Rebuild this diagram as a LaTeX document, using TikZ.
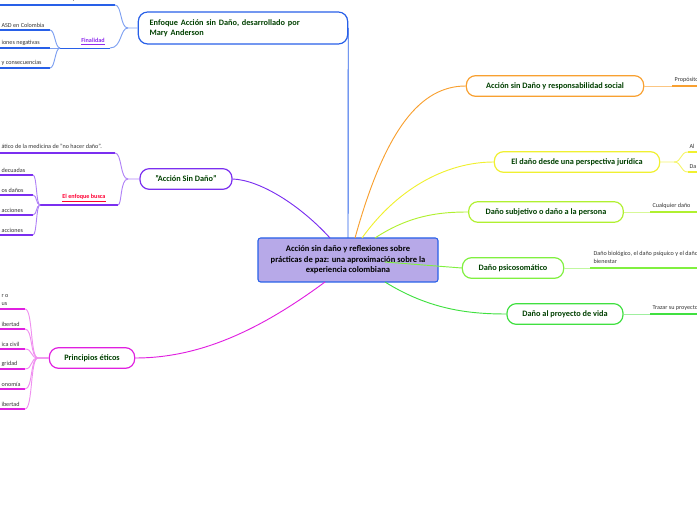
\documentclass[tikz,border=0pt]{standalone}
\usepackage{fontspec}
\setmainfont{Carlito}
\begin{document}
\begin{tikzpicture}[x=0.75pt,y=-0.75pt,
  mn/.style={draw,line width=0.9pt,rounded corners=7pt,minimum height=15.5pt,font=\bfseries\fontsize{6.2}{7.5}\selectfont,text=green!25!black,fill=white,inner xsep=6pt},
  st/.style={font=\fontsize{4.6}{5.6}\selectfont,text=black!80,inner sep=1pt},
  br/.style={line width=0.7pt},
  ul/.style={line width=1.3pt}]
\useasboundingbox (0,0) rectangle (697,520);
\definecolor{kb}{HTML}{2860E8}\definecolor{kp}{HTML}{7B2FF0}\definecolor{km}{HTML}{E020E0}
\definecolor{ko}{HTML}{F8A030}\definecolor{ky}{HTML}{F0F030}\definecolor{kl}{HTML}{B0F030}
\definecolor{kg}{HTML}{80F040}\definecolor{kv}{HTML}{40E040}\definecolor{klav}{HTML}{B7A9E8}
% central
\node[draw=kb,fill=klav,line width=0.8pt,rounded corners=2pt,minimum width=135pt,minimum height=33pt,align=center,font=\bfseries\fontsize{6.4}{8}\selectfont] (c) at (348,260) {Acción sin daño y reflexiones sobre\\prácticas de paz: una aproximación sobre la\\experiencia colombiana};
% main nodes
\node[mn,draw=kb,minimum width=157pt,minimum height=24pt,align=left,text width=140pt] (e) at (243,28) {Enfoque Acción sin Daño, desarrollado por\\Mary Anderson};
\node[mn,draw=kp,minimum width=69pt] (a) at (186,179) {"Acción Sin Daño"};
\node[mn,draw=km,minimum width=64pt] (p) at (92,358) {Principios éticos};
\node[mn,draw=ko,minimum width=133pt] (r) at (555,86) {Acción sin Daño y responsabilidad social};
\node[mn,draw=ky,minimum width=124pt] (j) at (577,162) {El daño desde una perspectiva jurídica};
\node[mn,draw=kl,minimum width=116pt] (s) at (546,212) {Daño subjetivo o daño a la persona};
\node[mn,draw=kg,minimum width=76pt] (ps) at (513,268) {Daño psicosomático};
\node[mn,draw=kv,minimum width=87pt] (v) at (565,314) {Daño al proyecto de vida};
% central connectors
\coordinate (c1) at (348,238);
\draw[br,kb] (c1) -- (e.east);
\draw[br,kp] (330,238) .. controls (300,205) and (260,180) .. (a.east);
\draw[br,km] (325,282) .. controls (260,330) and (200,358) .. (p.east);
\draw[br,ko] (355,238) .. controls (385,130) and (420,86) .. (r.west);
\draw[br,ky] (362,238) .. controls (400,185) and (450,162) .. (j.west);
\draw[br,kl] (375,238) .. controls (410,215) and (440,212) .. (s.west);
\draw[br,kg] (385,262) -- (ps.west);
\draw[br,kv] (385,282) .. controls (430,310) and (470,314) .. (v.west);
% Enfoque subitems
\node[st,anchor=south east] (e0) at (110,3) {y lo sustentan.};
\draw[ul,kb] (0,5) -- (115,5);
\draw[br,kb!60] (e.west) -- (128,28) .. controls (120,28) and (122,5) .. (115,5);
\node[font=\bfseries\fontsize{4.6}{5.6}\selectfont,text=kp!80!km] (fi) at (93,42) {\underline{Finalidad}};
\draw[br,kb] (60,48) -- (110,48);
\draw[br,kb!60] (128,28) .. controls (120,28) and (122,48) .. (110,48);
\foreach \y/\t in {30/ASD en Colombia,48/iones negativas,68/y consecuencias}{
  \node[st,anchor=south west] at (0,\y-1) {\t};
  \draw[ul,kb] (0,\y) -- (50,\y);
  \draw[br,kb!60] (60,48) .. controls (55,48) and (55,\y) .. (50,\y);}
% Accion Sin Dano subitems
\node[st,anchor=south west] at (0,150) {ático de la medicina de "no hacer daño".};
\draw[ul,kp] (0,153) -- (115,153);
\draw[br,kp!60] (a.west) -- (128,179) .. controls (120,179) and (122,153) .. (115,153);
\node[font=\bfseries\fontsize{4.6}{5.6}\selectfont,text=red!80!magenta] (eb) at (84,198) {\underline{El enfoque busca}};
\draw[ul,kp] (40,205) -- (118,205);
\draw[br,kp!60] (128,179) .. controls (120,179) and (122,205) .. (118,205);
\foreach \y/\t in {175/decuadas,195/os daños,215/acciones,235/acciones}{
  \node[st,anchor=south west] at (0,\y-1) {\t};
  \draw[ul,kp] (0,\y) -- (33,\y);
  \draw[br,kp!60] (40,205) .. controls (36,205) and (37,\y) .. (33,\y);}
% Principios subitems
\node[st,anchor=south west,align=left] at (0,307) {r o\\us};
\foreach \y/\t in {309/,329/ibertad,349/ica civil,369/gridad,389/onomía,409/ibertad}{
  \node[st,anchor=south west] at (0,\y-1) {\t};
  \draw[ul,km] (0,\y) -- (25,\y);
  \draw[br,km!50] (p.west) -- (38,358) .. controls (30,358) and (33,\y) .. (25,\y);}
% right subitems
\node[st,anchor=south west] at (673,84) {Propósito};
\draw[br,ko!60] (r.east) -- (672,86);
\draw[ul,ko] (672,86) -- (697,86);
\node[st,anchor=south west] at (688,150) {Al};
\node[st,anchor=south west] at (688,170) {Da};
\draw[ul,ky] (688,152) -- (697,152);
\draw[ul,ky] (688,172) -- (697,172);
\draw[br,ky!70] (j.east) -- (674,162) .. controls (682,162) and (680,152) .. (688,152);
\draw[br,ky!70] (674,162) .. controls (682,162) and (680,172) .. (688,172);
\node[st,anchor=south west] at (651,210) {Cualquier daño};
\draw[br,kl!50] (s.east) -- (650,212);
\draw[ul,kl] (650,212) -- (697,212);
\node[st,anchor=south west,align=left] at (592,265) {Daño biológico, el daño psíquico y el daño\\bienestar};
\draw[br,kg!50] (ps.east) -- (590,268);
\draw[ul,kg] (590,268) -- (697,268);
\node[st,anchor=south west] at (651,312) {Trazar su proyecto};
\draw[br,kv!50] (v.east) -- (650,314);
\draw[ul,kv] (650,314) -- (697,314);
\end{tikzpicture}
\end{document}
